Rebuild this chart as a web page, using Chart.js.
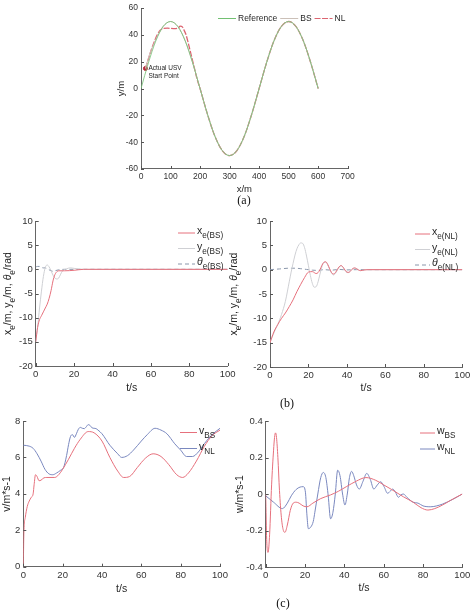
<!DOCTYPE html>
<html>
<head>
<meta charset="utf-8">
<script src="https://cdn.jsdelivr.net/npm/chart.js@4.4.1/dist/chart.umd.min.js"></script>
<style>
  html, body { margin: 0; padding: 0; background: #fff; }
  #page { position: relative; width: 474px; height: 611px; overflow: hidden; }
  #page canvas { position: absolute; left: 0; top: 0; }
  .tag { position: absolute; font: 12px "Liberation Serif", serif; color: #111; transform: translate(-50%, -50%); }
</style>
</head>
<body>
<div id="page">
  <canvas id="ca" width="474" height="611"></canvas>
  <canvas id="cb1" width="474" height="611"></canvas>
  <canvas id="cb2" width="474" height="611"></canvas>
  <canvas id="cc1" width="474" height="611"></canvas>
  <canvas id="cc2" width="474" height="611"></canvas>
  <div class="tag" style="left:244px;top:200px">(a)</div>
  <div class="tag" style="left:287px;top:403px">(b)</div>
  <div class="tag" style="left:283px;top:603px">(c)</div>
</div>
<script>
// ---- (a) path in the x/y plane ----
const pathTicksX = [0, 100, 200, 300, 400, 500, 600, 700];
const pathTicksY = [-60, -40, -20, 0, 20, 40, 60];
const refX = [0, 25, 50, 75, 100, 125, 150, 175, 200, 225, 250, 275, 300, 325, 350, 375, 400, 425, 450, 475, 500, 525, 550, 575, 600];
const refY = [0, 19.1, 35.4, 46.2, 50, 46.2, 35.4, 19.1, 0, -19.1, -35.4, -46.2, -50, -46.2, -35.4, -19.1, 0, 19.1, 35.4, 46.2, 50, 46.2, 35.4, 19.1, 0];
const bsX = [15, 20, 25, 30, 35, 40, 50, 60, 75, 100, 125, 150, 175, 200, 225, 250, 275, 300, 325, 350, 375, 400, 425, 450, 475, 500, 525, 550, 575, 600];
const bsY = [15, 19, 22.5, 26, 29, 31.5, 36.5, 41, 46.5, 50, 46.2, 35.4, 19.1, 0, -19.1, -35.4, -46.2, -50, -46.2, -35.4, -19.1, 0, 19.1, 35.4, 46.2, 50, 46.2, 35.4, 19.1, 0];
const nlX = [15, 25, 35, 45, 55, 65, 75, 90, 110, 125, 133, 140, 147, 152, 160, 170, 180, 190, 200, 225, 250, 275, 300, 325, 350, 375, 400, 425, 450, 475, 500, 525, 550, 575, 600];
const nlY = [15, 22, 29, 35, 40, 43.5, 44.8, 45, 44.7, 45, 46.5, 46, 43, 40.5, 34, 25, 16, 7, 0, -19.1, -35.4, -46.2, -50, -46.2, -35.4, -19.1, 0, 19.1, 35.4, 46.2, 50, 46.2, 35.4, 19.1, 0];
const startX = [15];
const startY = [15];

// ---- (b) tracking errors ----
const timeTicks = [0, 20, 40, 60, 80, 100];
const errTicks = [-20, -15, -10, -5, 0, 5, 10];
const xeBsT = [0, 1, 2, 3, 4, 5, 6, 7, 8, 9, 10, 11, 12, 15, 20, 25, 100];
const xeBsY = [-15, -12, -10.4, -9.6, -8.8, -8, -7.2, -6, -4.4, -2.4, -1.1, -0.5, -0.3, -0.3, -0.2, 0, 0];
const yeBsT = [0, 1, 2, 3, 4, 5, 6, 7, 8, 9, 10, 11, 12, 13, 14, 16, 18, 20, 25, 100];
const yeBsY = [-15, -12, -8, -4.5, -1.5, 0.4, 0.9, 0.5, -0.3, -1.2, -1.8, -2, -1.8, -1, -0.3, 0.1, 0.3, 0.2, 0, 0];
const thBsT = [0, 1, 2, 3, 4, 5, 6, 7, 8, 9, 10, 12, 15, 100];
const thBsY = [0.5, 0.6, 0.6, 0.4, 0.3, 0.3, 0.1, -0.1, -0.3, -0.4, -0.3, -0.1, 0, 0];
const xeNlT = [0, 2, 4, 6, 8, 10, 12, 14, 16, 18, 20, 22, 24, 25, 26, 27, 28, 29, 30, 31, 32, 33, 34, 35, 36, 37, 38, 39, 40, 41, 42, 43, 44, 45, 46, 47, 48, 49, 51, 100];
const xeNlY = [-15, -12.8, -11.3, -10, -8.9, -7.6, -6.2, -4.5, -3, -1.6, -0.5, -0.4, -0.8, -0.6, 0, 0.9, 1.5, 1.6, 1.1, 0.2, -0.6, -0.9, -0.6, 0, 0.6, 0.85, 0.5, -0.1, -0.5, -0.55, -0.2, 0.2, 0.35, 0.2, -0.05, -0.2, -0.15, -0.05, 0, 0];
const yeNlT = [0, 2, 4, 5, 6, 8, 10, 11, 12, 13, 14, 15, 16, 17, 18, 19, 20, 21, 22, 23, 24, 25, 26, 27, 28, 29, 30, 31, 32, 33, 34, 35, 36, 37, 38, 39, 40, 41, 42, 43, 44, 45, 46, 47, 48, 50, 100];
const yeNlY = [-15, -13, -11.3, -10.3, -9.2, -6.5, -2.5, -0.5, 1.3, 3, 4.3, 5.1, 5.5, 5.4, 4.5, 2.8, 0.8, -1.2, -2.8, -3.6, -3.5, -2.5, -0.9, 0.6, 1.5, 1.6, 1, 0.1, -0.7, -1.1, -0.8, -0.1, 0.6, 0.8, 0.5, -0.1, -0.6, -0.6, -0.2, 0.2, 0.35, 0.2, -0.05, -0.2, -0.15, 0, 0];
const thNlT = [0, 5, 10, 13, 16, 19, 22, 25, 28, 32, 36, 40, 45, 100];
const thNlY = [0, 0.15, 0.3, 0.3, 0.2, 0.05, -0.1, -0.15, 0, -0.1, 0.05, -0.05, 0, 0];

// ---- (c) speeds ----
const vTicks = [0, 2, 4, 6, 8];
const wTicks = [-0.4, -0.2, 0, 0.2, 0.4];
const vBsT = [0, 0.3, 1, 2, 3, 4, 5, 5.5, 6.2, 7, 8, 9, 10.5, 12, 16, 18, 20, 23, 26, 29, 33, 36, 40, 44, 48, 51, 54, 58, 62, 66, 70, 74, 78, 81, 84, 88, 92, 96, 100];
const vBsY = [0, 1.9, 2.7, 3.3, 3.6, 3.8, 4.0, 4.5, 5.05, 4.95, 4.72, 4.75, 4.88, 4.9, 4.9, 5.05, 5.35, 5.9, 6.5, 7.0, 7.42, 7.35, 6.9, 6.0, 5.25, 4.9, 4.95, 5.45, 5.95, 6.2, 6.05, 5.6, 5.05, 4.9, 5.15, 5.8, 6.6, 7.2, 7.5];
const vNlT = [0, 3, 5, 7, 9, 11, 13, 15, 17, 19, 20.5, 22, 23, 24, 25, 26, 27, 28, 29, 30, 31, 32, 33, 34, 35, 36, 37, 38, 40, 44, 48, 50, 53, 56, 60, 63, 67, 70, 73, 77, 80, 83, 86, 89, 92, 96, 100];
const vNlY = [6.67, 6.62, 6.5, 6.2, 5.8, 5.35, 5.1, 5.05, 5.15, 5.3, 5.45, 6.1, 6.7, 7.15, 7.25, 7.1, 7.3, 7.55, 7.65, 7.6, 7.58, 7.68, 7.8, 7.75, 7.62, 7.6, 7.58, 7.5, 7.3, 6.67, 6.2, 6.0, 6.1, 6.4, 6.9, 7.25, 7.6, 7.5, 7.3, 6.75, 6.4, 6.05, 6.05, 6.3, 6.75, 7.25, 7.6];
const wBsT = [0, 0.5, 1.2, 2, 3, 4, 4.5, 5, 5.5, 6.2, 7, 8, 9, 9.8, 11, 12.5, 14, 15.5, 17, 19, 21, 24, 28, 33, 37, 41, 46, 51, 56, 60, 64, 70, 75, 79, 82.5, 86, 90, 94, 100];
const wBsY = [0, -0.25, -0.32, -0.22, 0.05, 0.24, 0.31, 0.335, 0.31, 0.2, 0.02, -0.13, -0.2, -0.21, -0.17, -0.09, -0.05, -0.045, -0.05, -0.065, -0.07, -0.05, -0.025, -0.005, 0.015, 0.04, 0.07, 0.09, 0.075, 0.05, 0.025, -0.015, -0.045, -0.075, -0.088, -0.08, -0.06, -0.035, 0];
const wNlT = [0, 4, 8.5, 11, 13, 15.5, 17.5, 19.1, 20.2, 21, 21.7, 23, 24.2, 25, 26.5, 28, 29.3, 30.6, 31.8, 33, 34.2, 35.4, 36.6, 37.8, 39.1, 40.3, 41.5, 42.6, 43.7, 44.8, 46.2, 47.6, 49.5, 51.4, 53.2, 55, 56.8, 58.5, 60.2, 62, 63.3, 64.6, 66, 67.5, 68.8, 70, 72, 75, 77.5, 80, 84, 87, 90, 95, 100];
const wNlY = [-0.01, -0.045, -0.08, -0.05, -0.01, 0.025, 0.038, 0.04, 0.01, -0.12, -0.19, -0.18, -0.15, -0.1, 0, 0.09, 0.118, 0.09, -0.01, -0.136, -0.1, 0, 0.13, 0.1, 0, -0.06, 0, 0.09, 0.124, 0.1, 0.05, 0.027, 0.07, 0.113, 0.08, 0.027, 0.05, 0.067, 0.04, 0.004, 0.015, 0.027, 0.01, -0.018, -0.005, 0, -0.02, -0.045, -0.05, -0.065, -0.07, -0.065, -0.055, -0.03, 0];

const FAMILY = '"Liberation Sans", Arial, sans-serif';
const INK = '#262626';
const RED = '#e6707c';
const BLUE = '#7a88bf';

// text with subscripts: parts = [[text, 'n' | 'i' | 's'], ...]
function fontFor(kind, m) {
  return (kind === 'i' ? 'italic ' : '') + (kind === 's' ? m * 0.78 : m) + 'px ' + FAMILY;
}
function richWidth(ctx, parts, m) {
  let w = 0;
  for (const [t, k] of parts) { ctx.font = fontFor(k, m); w += ctx.measureText(t).width; }
  return w;
}
function drawRich(ctx, x, y, parts, m) {
  for (const [t, k] of parts) {
    ctx.font = fontFor(k, m);
    ctx.fillText(t, x, k === 's' ? y + m * 0.42 : y);
    x += ctx.measureText(t).width;
  }
  return x;
}

// per-canvas legends, rotated titles and notes (page pixel positions)
const eTitle = [['x', 'n'], ['e', 's'], ['/m, y', 'n'], ['e', 's'], ['/m, ', 'n'], ['θ', 'i'], ['e', 's'], ['/rad', 'n']];
const extras = {
  ca: {
    legend: { x: 218, y: 18.5, len: 18, size: 8.5, row: true, gap: 3, items: [
      { ds: 0, parts: [['Reference', 'n']] }, { ds: 1, parts: [['BS', 'n']] }, { ds: 2, parts: [['NL', 'n']] }] },
    notes: [{ ds: 3, dx: 3, dy: -0.5, text: 'Actual USV' }, { ds: 3, dx: 3, dy: 7.5, text: 'Start Point' }]
  },
  cb1: {
    legend: { x: 178, y: 233, len: 17, size: 10.5, gap: 15.5, items: [
      { ds: 0, parts: [['x', 'n'], ['e(BS)', 's']] }, { ds: 1, parts: [['y', 'n'], ['e(BS)', 's']] }, { ds: 2, parts: [['θ', 'i'], ['e(BS)', 's']] }] },
    ytitle: { x: 10, size: 10.5, parts: eTitle }
  },
  cb2: {
    legend: { x: 415, y: 234, len: 15, size: 10.5, gap: 15.5, items: [
      { ds: 0, parts: [['x', 'n'], ['e(NL)', 's']] }, { ds: 1, parts: [['y', 'n'], ['e(NL)', 's']] }, { ds: 2, parts: [['θ', 'i'], ['e(NL)', 's']] }] },
    ytitle: { x: 236, size: 10.5, parts: eTitle }
  },
  cc1: {
    legend: { x: 180, y: 432.5, len: 17, size: 10.5, gap: 16, items: [
      { ds: 0, parts: [['v', 'n'], ['BS', 's']] }, { ds: 1, parts: [['v', 'n'], ['NL', 's']] }] }
  },
  cc2: {
    legend: { x: 420, y: 433, len: 15, size: 10.5, gap: 16, items: [
      { ds: 0, parts: [['w', 'n'], ['BS', 's']] }, { ds: 1, parts: [['w', 'n'], ['NL', 's']] }] }
  }
};

const decor = {
  id: 'decor',
  afterDraw(chart) {
    const ctx = chart.ctx;
    const a = chart.chartArea;
    const ex = extras[chart.canvas.id] || {};
    // inward tick marks, MATLAB style
    ctx.save();
    ctx.strokeStyle = '#555';
    ctx.lineWidth = 1;
    ctx.beginPath();
    const sx = chart.scales.x, sy = chart.scales.y;
    sx.ticks.forEach(t => { const p = Math.round(sx.getPixelForValue(t.value)) + 0.5; ctx.moveTo(p, a.bottom); ctx.lineTo(p, a.bottom - 3); });
    sy.ticks.forEach(t => { const p = Math.round(sy.getPixelForValue(t.value)) + 0.5; ctx.moveTo(a.left, p); ctx.lineTo(a.left + 3, p); });
    ctx.stroke();
    ctx.textBaseline = 'middle';
    ctx.textAlign = 'left';
    ctx.fillStyle = INK;
    if (ex.legend) {
      const L = ex.legend;
      let x = L.x, y = L.y;
      L.items.forEach(it => {
        const ds = chart.data.datasets[it.ds];
        ctx.strokeStyle = ds.borderColor;
        ctx.lineWidth = 1;
        ctx.setLineDash(ds.borderDash || []);
        ctx.beginPath(); ctx.moveTo(x, y); ctx.lineTo(x + L.len, y); ctx.stroke();
        ctx.setLineDash([]);
        const end = drawRich(ctx, x + L.len + 2, it.parts.length > 1 ? y - 1.5 : y, it.parts, L.size);
        if (L.row) x = end + L.gap; else y += L.gap;
      });
    }
    if (ex.ytitle) {
      const T = ex.ytitle;
      ctx.save();
      ctx.translate(T.x, (a.top + a.bottom) / 2);
      ctx.rotate(-Math.PI / 2);
      const w = richWidth(ctx, T.parts, T.size);
      drawRich(ctx, -w / 2, -1.5, T.parts, T.size);
      ctx.restore();
    }
    if (ex.notes) {
      ctx.font = '6.5px ' + FAMILY;
      ex.notes.forEach(n => {
        const pt = chart.getDatasetMeta(n.ds).data[0];
        ctx.fillText(n.text, pt.x + n.dx, pt.y + n.dy);
      });
    }
    ctx.restore();
  }
};

function series(xs, ys, style) {
  return Object.assign({
    data: xs.map((x, i) => ({ x, y: ys[i] })),
    pointRadius: 0, borderWidth: 1, fill: false, cubicInterpolationMode: 'monotone'
  }, style);
}

function axis(vals, tickSize, titleSize, title, width, height) {
  return {
    type: 'linear',
    min: vals[0], max: vals[vals.length - 1],
    afterBuildTicks: s => { s.ticks = vals.map(v => ({ value: v })); },
    afterFit: s => { if (width != null) s.width = width; if (height != null) s.height = height; },
    grid: { display: false, drawTicks: false },
    border: { display: true, color: '#666', width: 1 },
    ticks: { padding: 3, color: '#333', autoSkip: false, maxRotation: 0, font: { family: FAMILY, size: tickSize } },
    title: { display: !!title, text: title, padding: 0, color: INK, font: { family: FAMILY, size: titleSize } }
  };
}

function makeChart(id, datasets, xAxis, yAxis, pad) {
  return new Chart(document.getElementById(id), {
    type: 'line',
    data: { datasets },
    options: {
      responsive: false, animation: false, events: [],
      layout: { padding: pad },
      scales: { x: xAxis, y: yAxis },
      plugins: { legend: { display: false }, tooltip: { enabled: false } }
    },
    plugins: [decor]
  });
}

// (a)
makeChart('ca', [
  series(refX, refY, { borderColor: '#72c072', borderWidth: 0.8 }),
  series(bsX, bsY, { borderColor: '#cbc0b8' }),
  series(nlX, nlY, { borderColor: '#dc6470', borderDash: [6, 1.5], borderWidth: 1.3 }),
  series(startX, startY, { showLine: false, pointRadius: 2, backgroundColor: '#b8283a', borderColor: '#b8283a' })
], axis(pathTicksX, 8.5, 9.5, 'x/m', null, 25.7), axis(pathTicksY, 8.5, 9.5, 'y/m', 25.7, null),
  { left: 115.3, right: 126.3, top: 6.7, bottom: 416.3 });

// (b) left
makeChart('cb1', [
  series(xeBsT, xeBsY, { borderColor: RED }),
  series(yeBsT, yeBsY, { borderColor: '#cfd0d4' }),
  series(thBsT, thBsY, { borderColor: '#8a96aa', borderDash: [4, 3] })
], axis(timeTicks, 9.5, 10.5, 't/s', null, 28.3), axis(errTicks, 9.5, 10.5, '', 30, null),
  { left: 5.7, right: 246.3, top: 221, bottom: 216.7 });

// (b) right
makeChart('cb2', [
  series(xeNlT, xeNlY, { borderColor: RED }),
  series(yeNlT, yeNlY, { borderColor: '#cfd0d4' }),
  series(thNlT, thNlY, { borderColor: '#8a96aa', borderDash: [4, 3] })
], axis(timeTicks, 9.5, 10.5, 't/s', null, 27.6), axis(errTicks, 9.5, 10.5, '', 30, null),
  { left: 240, right: 11.7, top: 221, bottom: 216.4 });

// (c) left
makeChart('cc1', [
  series(vBsT, vBsY, { borderColor: RED }),
  series(vNlT, vNlY, { borderColor: BLUE })
], axis(timeTicks, 9.5, 10.5, 't/s', null, 28.9), axis(vTicks, 9.5, 10.5, 'v/m*s-1', 22.6, null),
  { left: 0.7, right: 254, top: 421, bottom: 15.4 });

// (c) right
makeChart('cc2', [
  series(wBsT, wBsY, { borderColor: RED }),
  series(wNlT, wNlY, { borderColor: BLUE })
], axis(timeTicks, 9.5, 10.5, 't/s', null, 27.6), axis(wTicks, 9.5, 10.5, 'w/m*s-1', 32, null),
  { left: 233.7, right: 11.7, top: 421, bottom: 16.4 });
</script>
</body>
</html>
